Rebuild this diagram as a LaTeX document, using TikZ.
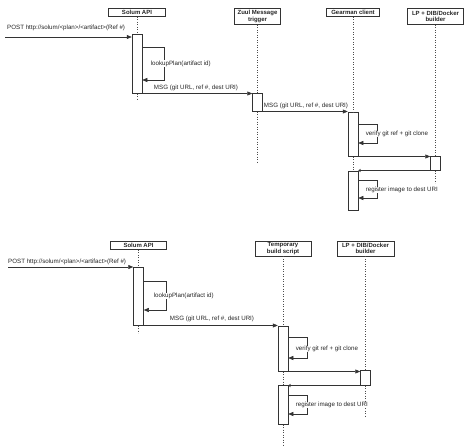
\documentclass[tikz,border=0pt]{standalone}
\usepackage{fontspec}
\setmainfont{Liberation Sans}
\usetikzlibrary{arrows.meta}
\begin{document}
\begin{tikzpicture}[x=1pt,y=-1pt,
 every node/.style={font=\fontsize{6.2}{6.8}\selectfont, inner sep=0pt, text=black!85},
 hdr/.style={draw=black!80, line width=0.6pt, font=\fontsize{6}{6.6}\selectfont\bfseries, align=center, inner xsep=2pt},
 act/.style={draw=black!80, fill=white, minimum width=10pt, anchor=north, line width=0.5pt},
 life/.style={dotted, line width=0.5pt, black!70},
 call/.style={-{Triangle[length=5pt,width=4pt]}, line width=0.5pt, black!80},
 ret/.style={-{Straight Barb[length=2pt,width=3pt]}, line width=0.5pt, black!80},
 lbl/.style={fill=white, inner sep=0.6pt, anchor=west}
]
\fill[white] (0,0) rectangle (474,447);
\useasboundingbox (0,0) rectangle (474,447);

% ---------- top diagram ----------
\node[hdr, minimum width=57pt, minimum height=8pt] (h1) at (137,12.5) {Solum API};
\node[hdr, minimum width=46pt, minimum height=16pt] (h2) at (257.5,16.5) {Zuul Message\\trigger};
\node[hdr, minimum width=53pt, minimum height=8pt] (h3) at (353,12.5) {Gearman client};
\node[hdr, minimum width=56pt, minimum height=16pt] (h4) at (435.5,16.5) {LP + DIB/Docker\\builder};

\coordinate (e1) at (137,101);
\coordinate (e2) at (257.5,162);
\coordinate (e4) at (435.5,183);

\node[act, minimum height=59pt] (a1) at (137,34) {};
\node[act, minimum height=18pt] (a2) at (257.5,93) {};
\node[act, minimum height=44pt] (a3) at (353,112) {};
\node[act, minimum height=14pt] (a4) at (435.5,156) {};
\node[act, minimum height=39pt] (a5) at (353,171) {};

\draw[life] (h1.south) -- (a1.north);
\draw[life] (a1.south) -- (e1);
\draw[life] (h2.south) -- (a2.north);
\draw[life] (a2.south) -- (e2);
\draw[life] (h3.south) -- (a3.north);
\draw[life] (a3.south) -- (a5.north);
\draw[life] (h4.south) -- (a4.north);
\draw[life] (a4.south) -- (e4);

\coordinate (s0) at (5,37);
\draw[call] (s0) -- (s0 -| a1.west);
\node[anchor=base west] (t0) at (7,29) {POST http://solum/<plan>/<artifact>(Ref \#)};

\coordinate (l1) at (164,47);
\coordinate (l2) at (164,80);
\draw[call] (a1.east |- l1) -- (l1) -- (l2) -- (a1.east |- l2);
\node[lbl] (t1) at (150,63.5) {lookupPlan(artifact id)};

\draw[call] (a1.south east) -- (a1.south east -| a2.west);
\node[anchor=base] (t2) at (196,89) {MSG (git URL, ref \#, dest URI)};

\draw[call] (a2.south east) -- (a2.south east -| a3.west);
\node[anchor=base] (t3) at (306,107) {MSG (git URL, ref \#, dest URI)};

\coordinate (l3) at (377,124);
\coordinate (l4) at (377,143);
\draw[call] (a3.east |- l3) -- (l3) -- (l4) -- (a3.east |- l4);
\node[lbl] (t4) at (365,134) {verify git ref + git clone};

\draw[call] (a3.south east) -- (a3.south east -| a4.west);
\draw[ret] (a4.south west) -- (a4.south west -| a5.east);

\coordinate (l5) at (377,180);
\coordinate (l6) at (377,198);
\draw[call] (a5.east |- l5) -- (l5) -- (l6) -- (a5.east |- l6);
\node[lbl] (t5) at (365,190) {register image to dest URI};

% ---------- bottom diagram ----------
\node[hdr, minimum width=56pt, minimum height=8pt] (h5) at (138.5,245.5) {Solum API};
\node[hdr, minimum width=56pt, minimum height=15pt] (h6) at (283,248.5) {Temporary\\build script};
\node[hdr, minimum width=57pt, minimum height=15pt] (h7) at (365.5,248.5) {LP + DIB/Docker\\builder};

\coordinate (f1) at (138.5,333);
\coordinate (f2) at (283,445);
\coordinate (f3) at (365.5,416);

\node[act, minimum height=58pt] (b1) at (138.5,267) {};
\node[act, minimum height=45pt] (b2) at (283,326) {};
\node[act, minimum height=15pt] (b3) at (365.5,370) {};
\node[act, minimum height=39pt] (b4) at (283,385) {};

\draw[life] (h5.south) -- (b1.north);
\draw[life] (b1.south) -- (f1);
\draw[life] (h6.south) -- (b2.north);
\draw[life] (b2.south) -- (b4.north);
\draw[life] (b4.south) -- (f2);
\draw[life] (h7.south) -- (b3.north);
\draw[life] (b3.south) -- (f3);

\coordinate (s1) at (8,267);
\draw[call] (s1) -- (s1 -| b1.west);
\node[anchor=base west] (u0) at (8,263) {POST http://solum/<plan>/<artifact>(Ref \#)};

\coordinate (m1) at (166,281);
\coordinate (m2) at (166,310);
\draw[call] (b1.east |- m1) -- (m1) -- (m2) -- (b1.east |- m2);
\node[lbl] (u1) at (153,296) {lookupPlan(artifact id)};

\draw[call] (b1.south east) -- (b1.south east -| b2.west);
\node[anchor=base] (u2) at (212,320) {MSG (git URL, ref \#, dest URI)};

\coordinate (m3) at (307,337);
\coordinate (m4) at (307,358);
\draw[call] (b2.east |- m3) -- (m3) -- (m4) -- (b2.east |- m4);
\node[lbl] (u3) at (295,349) {verify git ref + git clone};

\draw[call] (b2.south east) -- (b2.south east -| b3.west);
\draw[ret] (b3.south west) -- (b3.south west -| b4.east);

\coordinate (m5) at (307,395);
\coordinate (m6) at (307,414);
\draw[call] (b4.east |- m5) -- (m5) -- (m6) -- (b4.east |- m6);
\node[lbl] (u4) at (295,405) {register image to dest URI};
\end{tikzpicture}
\end{document}
